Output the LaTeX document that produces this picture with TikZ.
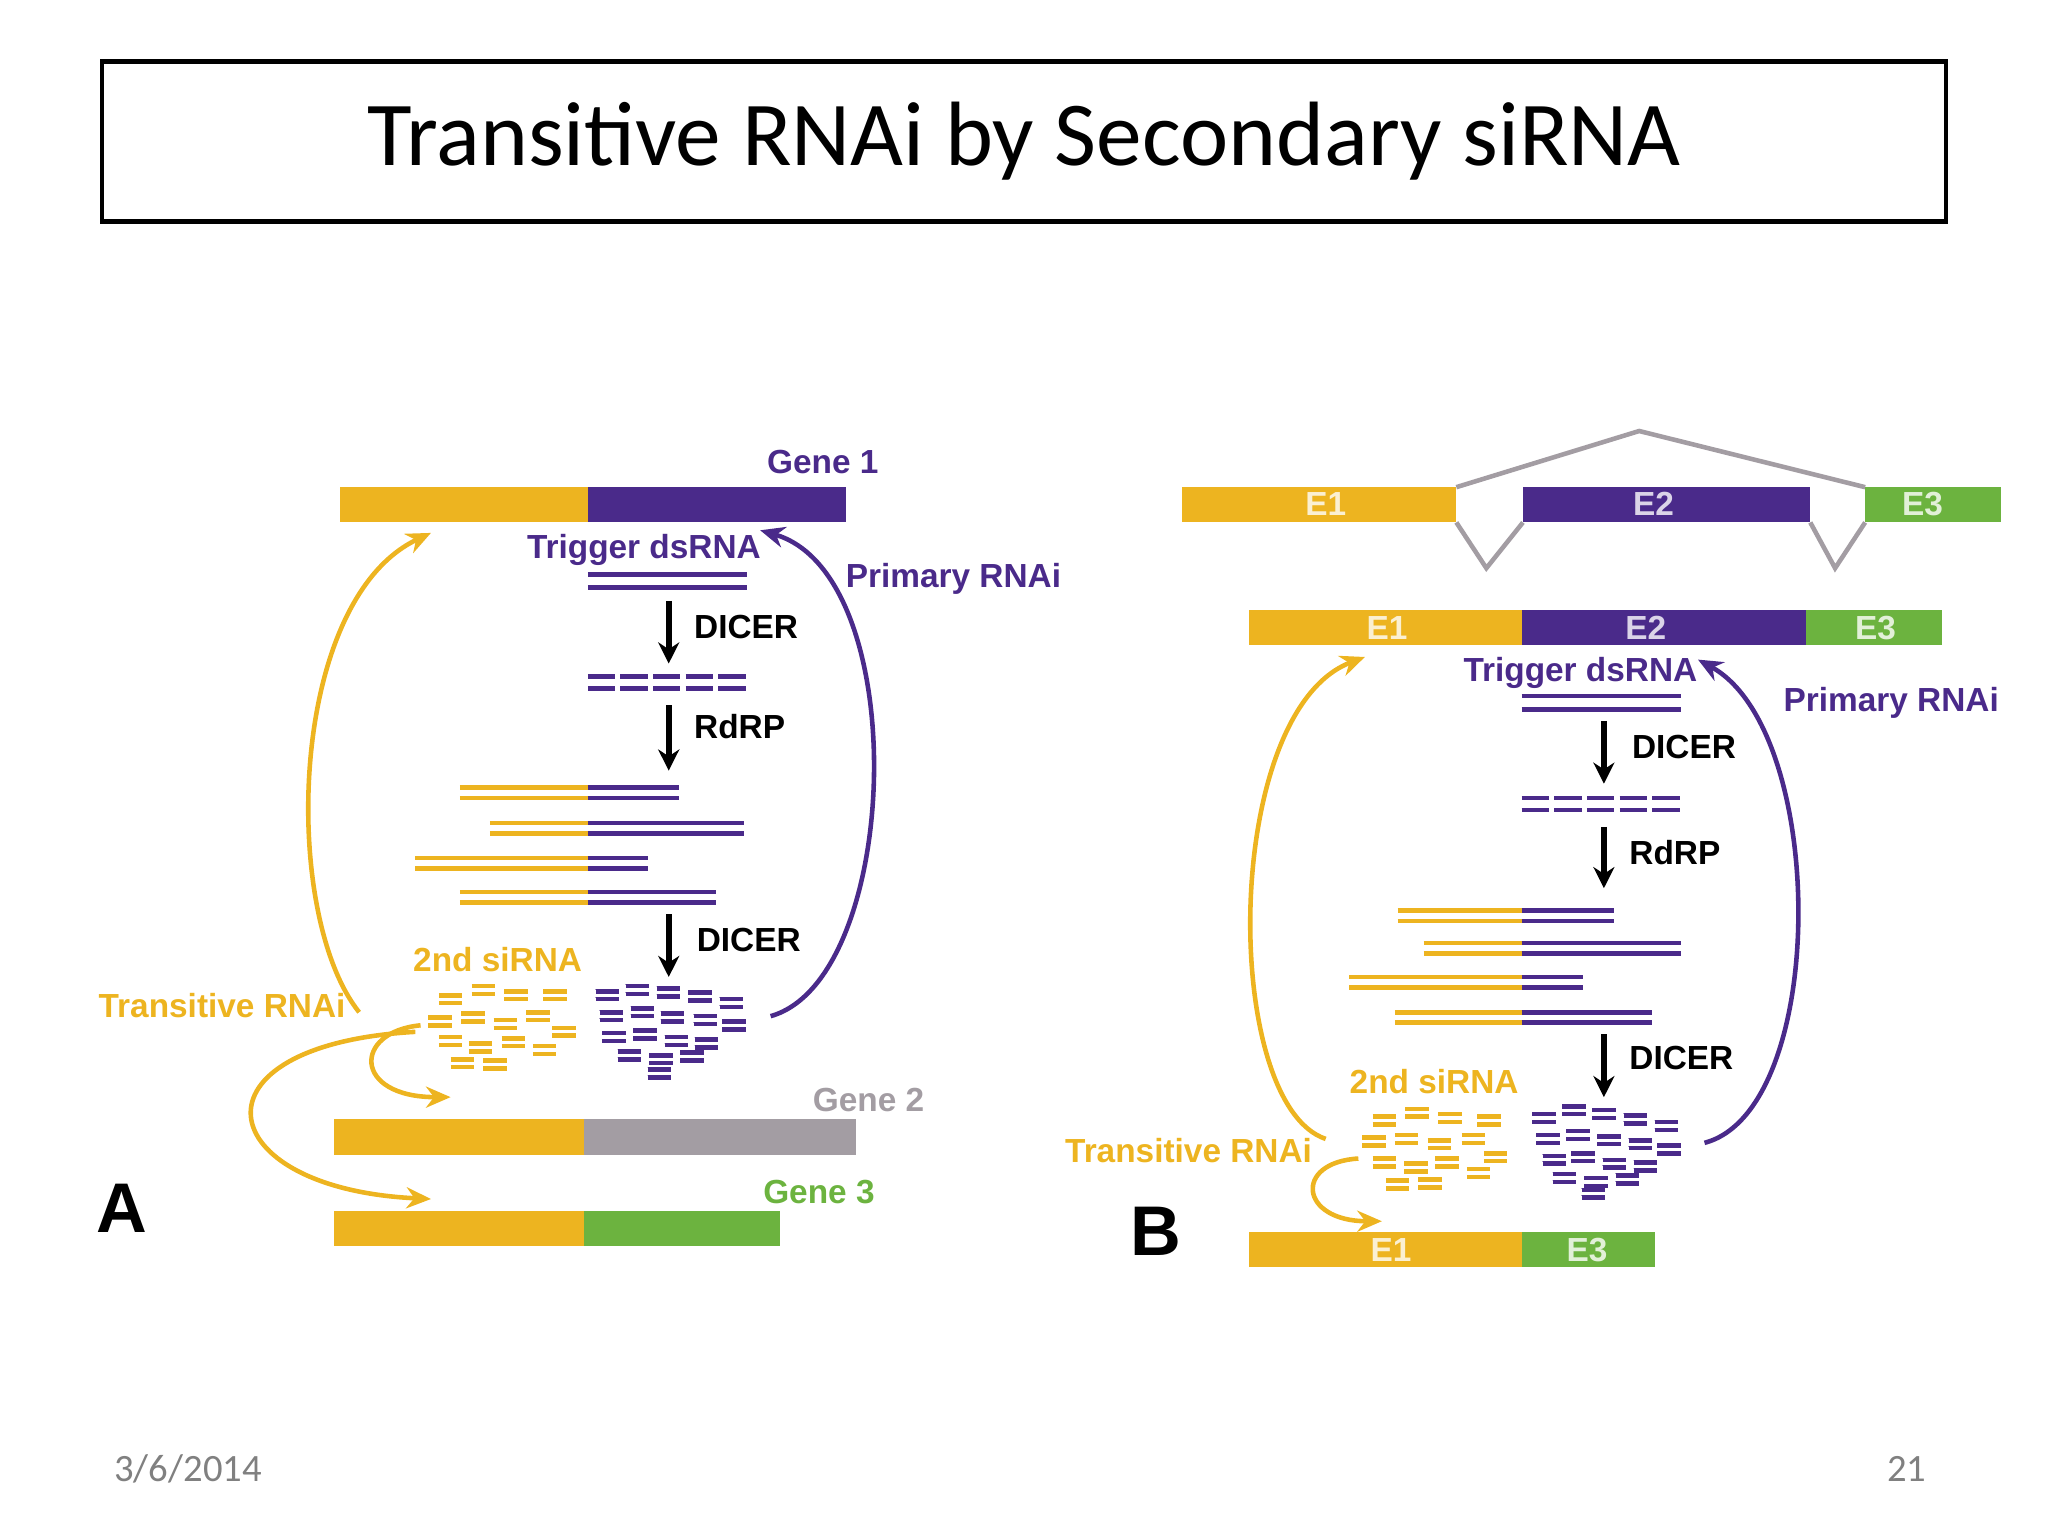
\documentclass[tikz,border=0pt]{standalone}
\usepackage{fontspec}
\setmainfont{Carlito}
\newfontfamily\lab{Liberation Sans}
\usetikzlibrary{arrows.meta}
\definecolor{orng}{HTML}{EDB420}
\definecolor{purp}{HTML}{4A2A8A}
\definecolor{gry}{HTML}{A39DA3}
\definecolor{grn}{HTML}{6CB33F}
\tikzset{
  lbl/.style={font=\lab\bfseries\fontsize{9.5}{11}\selectfont},
  strand/.style={line width=1.3pt},
  dicer/.style={-{Stealth[length=6pt,width=6pt]},line width=1.8pt},
  loop/.style={-{Stealth[length=7pt,width=6pt]},line width=1.3pt},
  exon/.style={lbl,text=white!80!#1}
}
% one siRNA duplex drawn as two short bars
\newcommand{\sirna}[3]{\draw[#1,line width=1.3pt] (#2-9,#3-3) -- (#2+9,#3-3) (#2-9,#3+3) -- (#2+9,#3+3);}
\begin{document}
\begin{tikzpicture}[x=0.013061cm,y=-0.013061cm]
\useasboundingbox (0,0) rectangle (1568,1176);

% title
\node[draw,line width=1.4pt,minimum width=18.44cm,minimum height=1.6cm,font=\fontsize{26}{31}\selectfont] (title) at (784,108) {Transitive RNAi by Secondary siRNA};
\node[text=gray,font=\fontsize{11}{13}\selectfont] (date) at (144,1125) {3/6/2014};
\node[text=gray,font=\fontsize{11}{13}\selectfont] (page) at (1460,1125) {21};

% ---- panel A ----
\fill[orng] (260,373) rectangle (450,400);
\fill[purp] (450,373) rectangle (648,400);
\node[lbl,text=purp] (gene1) at (630,354) {Gene 1};
\node[lbl,text=purp] (trigA) at (493,421) {Trigger dsRNA};
\draw[purp,strand] (450,440) -- (572,440) (450,450) -- (572,450);
\coordinate (d1a) at (512,460); \coordinate (d1b) at (512,508);
\draw[dicer] (d1a) -- (d1b);
\node[lbl,anchor=west] (dicerA1) at (522,480) {DICER};
\foreach \x in {450,475,500,525,550}
  \draw[purp,strand] (\x,518) -- (\x+21,518) (\x,527) -- (\x+21,527);
\coordinate (r1a) at (512,540); \coordinate (r1b) at (512,590);
\draw[dicer] (r1a) -- (r1b);
\node[lbl,anchor=west] (rdrpA) at (522,556) {RdRP};
\foreach \y/\l/\r in {603/352/520,630/375/570,657/318/496,683/352/548}{
  \draw[orng,strand] (\l,\y) -- (450,\y) (\l,\y+8) -- (450,\y+8);
  \draw[purp,strand] (450,\y) -- (\r,\y) (450,\y+8) -- (\r,\y+8);
}
\coordinate (d2a) at (512,700); \coordinate (d2b) at (512,748);
\draw[dicer] (d2a) -- (d2b);
\node[lbl,anchor=west] (dicerA2) at (524,720) {DICER};
\node[lbl,text=orng] (secA) at (381,735) {2nd siRNA};
\foreach \x/\y in {345/765,370/758,395/762,425/762,337/782,362/779,387/784,412/778,432/790,
                   345/797,368/802,393/798,417/804,354/814,379/815}
  \sirna{orng}{\x}{\y}
\foreach \x/\y in {465/762,488/758,512/760,536/763,560/768,468/778,492/775,515/779,540/781,
                   562/785,470/794,494/792,518/797,541/799,482/808,506/811,530/809,505/822}
  \sirna{purp}{\x}{\y}
\coordinate (pa1) at (590,778); \coordinate (pa2) at (582,406);
\draw[loop,purp] (pa1) .. controls (690,750) and (700,440) .. (pa2);
\node[lbl,text=purp] (primA) at (730,443) {Primary RNAi};
\node[lbl,text=orng] (transA) at (170,770) {Transitive RNAi};
\coordinate (ta1) at (275,775); \coordinate (ta2) at (330,408);
\draw[loop,orng] (ta1) .. controls (215,700) and (220,460) .. (ta2);
\coordinate (ta3) at (322,785); \coordinate (ta4) at (345,840);
\draw[loop,orng] (ta3) .. controls (270,790) and (270,840) .. (ta4);
\coordinate (ta5) at (318,790); \coordinate (ta6) at (330,918);
\draw[loop,orng] (ta5) .. controls (140,800) and (160,910) .. (ta6);
\fill[orng] (256,857) rectangle (447,884);
\fill[gry] (447,857) rectangle (655,884);
\node[lbl,text=gry] (gene2) at (665,842) {Gene 2};
\fill[orng] (256,927) rectangle (447,954);
\fill[grn] (447,927) rectangle (597,954);
\node[lbl,text=grn] (gene3) at (627,913) {Gene 3};
\node[font=\lab\bfseries\fontsize{20}{22}\selectfont] (panA) at (93,925) {A};

% ---- panel B ----
\fill[orng] (905,373) rectangle (1115,400);
\fill[purp] (1166,373) rectangle (1386,400);
\fill[grn] (1428,373) rectangle (1532,400);
\draw[gry,line width=1.3pt] (1115,373) -- (1255,330) -- (1428,373)
  (1115,400) -- (1138,435) -- (1166,400) (1386,400) -- (1405,435) -- (1428,400);
\node[exon=orng] (e1t) at (1015,386) {E1};
\node[exon=purp] (e2t) at (1266,386) {E2};
\node[exon=grn] (e3t) at (1472,386) {E3};
\fill[orng] (956,467) rectangle (1165,494);
\fill[purp] (1165,467) rectangle (1383,494);
\fill[grn] (1383,467) rectangle (1487,494);
\node[exon=orng] (e1m) at (1062,481) {E1};
\node[exon=purp] (e2m) at (1260,481) {E2};
\node[exon=grn] (e3m) at (1436,481) {E3};
\node[lbl,text=purp] (trigB) at (1210,515) {Trigger dsRNA};
\draw[purp,strand] (1165,533) -- (1287,533) (1165,543) -- (1287,543);
\coordinate (d3a) at (1228,552); \coordinate (d3b) at (1228,600);
\draw[dicer] (d3a) -- (d3b);
\node[lbl,anchor=west] (dicerB1) at (1240,572) {DICER};
\foreach \x in {1165,1190,1215,1240,1265}
  \draw[purp,strand] (\x,611) -- (\x+21,611) (\x,620) -- (\x+21,620);
\coordinate (r2a) at (1228,633); \coordinate (r2b) at (1228,680);
\draw[dicer] (r2a) -- (r2b);
\node[lbl,anchor=west] (rdrpB) at (1238,653) {RdRP};
\foreach \y/\l/\r in {697/1070/1236,722/1090/1287,748/1033/1212,775/1068/1265}{
  \draw[orng,strand] (\l,\y) -- (1165,\y) (\l,\y+8) -- (1165,\y+8);
  \draw[purp,strand] (1165,\y) -- (\r,\y) (1165,\y+8) -- (\r,\y+8);
}
\coordinate (d4a) at (1228,792); \coordinate (d4b) at (1228,840);
\draw[dicer] (d4a) -- (d4b);
\node[lbl,anchor=west] (dicerB2) at (1238,810) {DICER};
\node[lbl,text=orng] (secB) at (1098,828) {2nd siRNA};
\foreach \x/\y in {1060/858,1085/852,1110/856,1140/858,1052/874,1077/872,1102/876,1128/872,
                   1145/886,1060/890,1084/894,1108/890,1132/898,1070/907,1095/906}
  \sirna{orng}{\x}{\y}
\foreach \x/\y in {1182/856,1205/850,1228/853,1252/857,1276/862,1185/872,1208/869,1232/873,
                   1256/876,1278/880,1190/888,1212/886,1236/891,1260/893,1198/902,1222/905,1246/903,1220/914}
  \sirna{purp}{\x}{\y}
\coordinate (pb1) at (1305,875); \coordinate (pb2) at (1300,505);
\draw[loop,purp] (pb1) .. controls (1400,850) and (1400,560) .. (pb2);
\node[lbl,text=purp] (primB) at (1448,538) {Primary RNAi};
\node[lbl,text=orng] (transB) at (910,881) {Transitive RNAi};
\coordinate (tb1) at (1015,872); \coordinate (tb2) at (1045,503);
\draw[loop,orng] (tb1) .. controls (935,845) and (935,545) .. (tb2);
\coordinate (tb3) at (1040,887); \coordinate (tb4) at (1058,935);
\draw[loop,orng] (tb3) .. controls (990,890) and (995,935) .. (tb4);
\fill[orng] (956,943) rectangle (1165,970);
\fill[grn] (1165,943) rectangle (1267,970);
\node[exon=orng] (e1b) at (1065,957) {E1};
\node[exon=grn] (e3b) at (1215,957) {E3};
\node[font=\lab\bfseries\fontsize{20}{22}\selectfont] (panB) at (885,943) {B};
\end{tikzpicture}
\end{document}
